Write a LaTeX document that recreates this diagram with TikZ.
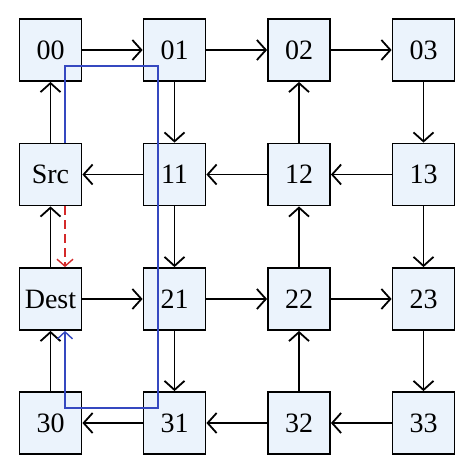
\documentclass[tikz,border=0pt]{standalone}
\usepackage{fontspec}
\setmainfont{Liberation Serif}
\usetikzlibrary{arrows.meta}
\definecolor{boxfill}{HTML}{EBF3FC}
\definecolor{pathblue}{HTML}{3548C0}
\definecolor{pathred}{HTML}{D42A2A}
\tikzset{
  router/.style={draw=black, line width=1.8pt, fill=boxfill, minimum size=62pt, inner sep=0pt,
    font=\fontsize{28}{32}\selectfont},
  link/.style={line width=1.8pt, -{Straight Barb[length=9pt,width=20pt]}},
  route/.style={draw=pathblue, line width=1.4pt, -{Straight Barb[length=7pt,width=15pt]}},
  faulty/.style={draw=pathred, line width=1.4pt, dash pattern=on 9pt off 5pt, -{Straight Barb[length=7pt,width=16pt]}}
}
\begin{document}
\begin{tikzpicture}[x=1pt,y=-1pt]
\useasboundingbox (0,0) rectangle (474,474);
% nodes
\node[router] (n00) at (50.5,50) {00};
\node[router] (n01) at (174.5,50) {01};
\node[router] (n02) at (299,50) {02};
\node[router] (n03) at (423.5,50) {03};
\node[router] (src) at (50.5,174.5) {Src};
\node[router] (n11) at (174.5,174.5) {11};
\node[router] (n12) at (299,174.5) {12};
\node[router] (n13) at (423.5,174.5) {13};
\node[router] (dest) at (50.5,299) {Dest};
\node[router] (n21) at (174.5,299) {21};
\node[router] (n22) at (299,299) {22};
\node[router] (n23) at (423.5,299) {23};
\node[router] (n30) at (50.5,423) {30};
\node[router] (n31) at (174.5,423) {31};
\node[router] (n32) at (299,423) {32};
\node[router] (n33) at (423.5,423) {33};
% row links
\draw[link] (n00) -- (n01);
\draw[link] (n01) -- (n02);
\draw[link] (n02) -- (n03);
\draw[link] (n11) -- (src);
\draw[link] (n12) -- (n11);
\draw[link] (n13) -- (n12);
\draw[link] (dest) -- (n21);
\draw[link] (n21) -- (n22);
\draw[link] (n22) -- (n23);
\draw[link] (n31) -- (n30);
\draw[link] (n32) -- (n31);
\draw[link] (n33) -- (n32);
% column links
\draw[link] (src) -- (n00);
\draw[link] (dest) -- (src);
\draw[link] (n30) -- (dest);
\draw[link] (n01) -- (n11);
\draw[link] (n11) -- (n21);
\draw[link] (n21) -- (n31);
\draw[link] (n12) -- (n02);
\draw[link] (n22) -- (n12);
\draw[link] (n32) -- (n22);
\draw[link] (n03) -- (n13);
\draw[link] (n13) -- (n23);
\draw[link] (n23) -- (n33);
% faulty direct route
\draw[faulty] ([xshift=14.5pt]src.south) -- ([xshift=14.5pt]dest.north);
% detour route
\coordinate (r1) at (65,66);
\coordinate (r2) at (158,66);
\coordinate (r3) at (158,408);
\coordinate (r4) at (65,408);
\draw[route] ([xshift=14.5pt]src.north) -- (r1) -- (r2) -- (r3) -- (r4) -- ([xshift=14.5pt]dest.south);
\end{tikzpicture}
\end{document}
